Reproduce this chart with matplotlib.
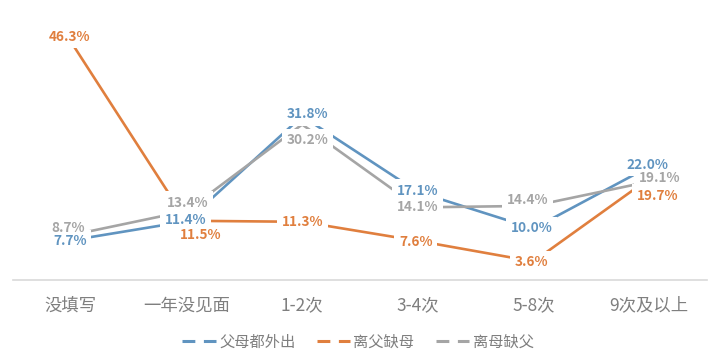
import matplotlib
matplotlib.use("Agg")
import matplotlib.pyplot as plt
from matplotlib.lines import Line2D

plt.rcParams['font.family'] = ['Noto Sans CJK SC', 'DejaVu Sans']

categories = ['没填写', '一年没见面', '1-2次', '3-4次', '5-8次', '9次及以上']
series_names = ['父母都外出', '离父缺母', '离母缺父']
both_out = [7.7, 11.4, 31.8, 17.1, 10.0, 22.0]
no_mother = [46.3, 11.5, 11.3, 7.6, 3.6, 19.7]
no_father = [8.7, 13.4, 30.2, 14.1, 14.4, 19.1]

colors = ['#6094c0', '#e07f3e', '#a5a5a5']

# label offsets in pixels (dx, dy) so the labels don't overlap
offsets = [
    [(-1, -1), (-1, 1), (5, 2), (0, 1), (-2, 0), (-2, 2)],
    [(-1, 5), (14, -14), (0, 0), (-2, -1), (-2, -1), (8, -17)],
    [(-3, 7), (1, 8), (5, -16), (0, 0), (-6, 6), (10, 4)],
]

fig = plt.figure(figsize=(7.16, 3.57), dpi=100)
ax = fig.add_axes([13 / 716, 1 - 280 / 357, 694 / 716, 257.5 / 357])

x = list(range(len(categories)))
all_series = [both_out, no_mother, no_father]
for vals, col in zip(all_series, colors):
    ax.plot(x, vals, color=col, lw=1.9, solid_capstyle='butt', zorder=2)

# white boxes first (gaps in the lines), then the coloured text on top
for vals, col, offs in zip(all_series, colors, offsets):
    for xi, v, (dx, dy) in zip(x, vals, offs):
        ax.annotate(f'{v:.1f}%', (xi, v), xytext=(dx, dy), textcoords='offset pixels',
                    ha='center', va='center', fontsize=9.8, fontweight='bold', color='white',
                    bbox=dict(boxstyle='square,pad=0.35', fc='white', ec='none'), zorder=3)
for vals, col, offs in zip(all_series, colors, offsets):
    for xi, v, (dx, dy) in zip(x, vals, offs):
        ax.annotate(f'{v:.1f}%', (xi, v), xytext=(dx, dy), textcoords='offset pixels',
                    ha='center', va='center', fontsize=9.8, fontweight='bold', color=col,
                    zorder=5)

ax.set_xlim(-0.5, len(categories) - 0.5)
ax.set_ylim(0, 50)
ax.set_xticks(x)
ax.set_xticklabels(categories, fontsize=12.5, color='#7f7f7f')
ax.tick_params(axis='x', length=0, pad=12)
ax.set_yticks([])
for s in ['top', 'right', 'left']:
    ax.spines[s].set_visible(False)
ax.spines['bottom'].set_color('#d9d9d9')
ax.spines['bottom'].set_linewidth(1.2)

handles = [Line2D([0], [0], color=c, lw=2.2, linestyle=(0, (4.2, 2.8))) for c in colors]
fig.legend(handles, series_names, loc='center', bbox_to_anchor=(0.5, 1 - 342 / 357), ncol=3,
           frameon=False, fontsize=11, handlelength=2.2, handletextpad=0.2, columnspacing=1.4,
           labelcolor='#7f7f7f')

fig.savefig('out.png', dpi=100)
